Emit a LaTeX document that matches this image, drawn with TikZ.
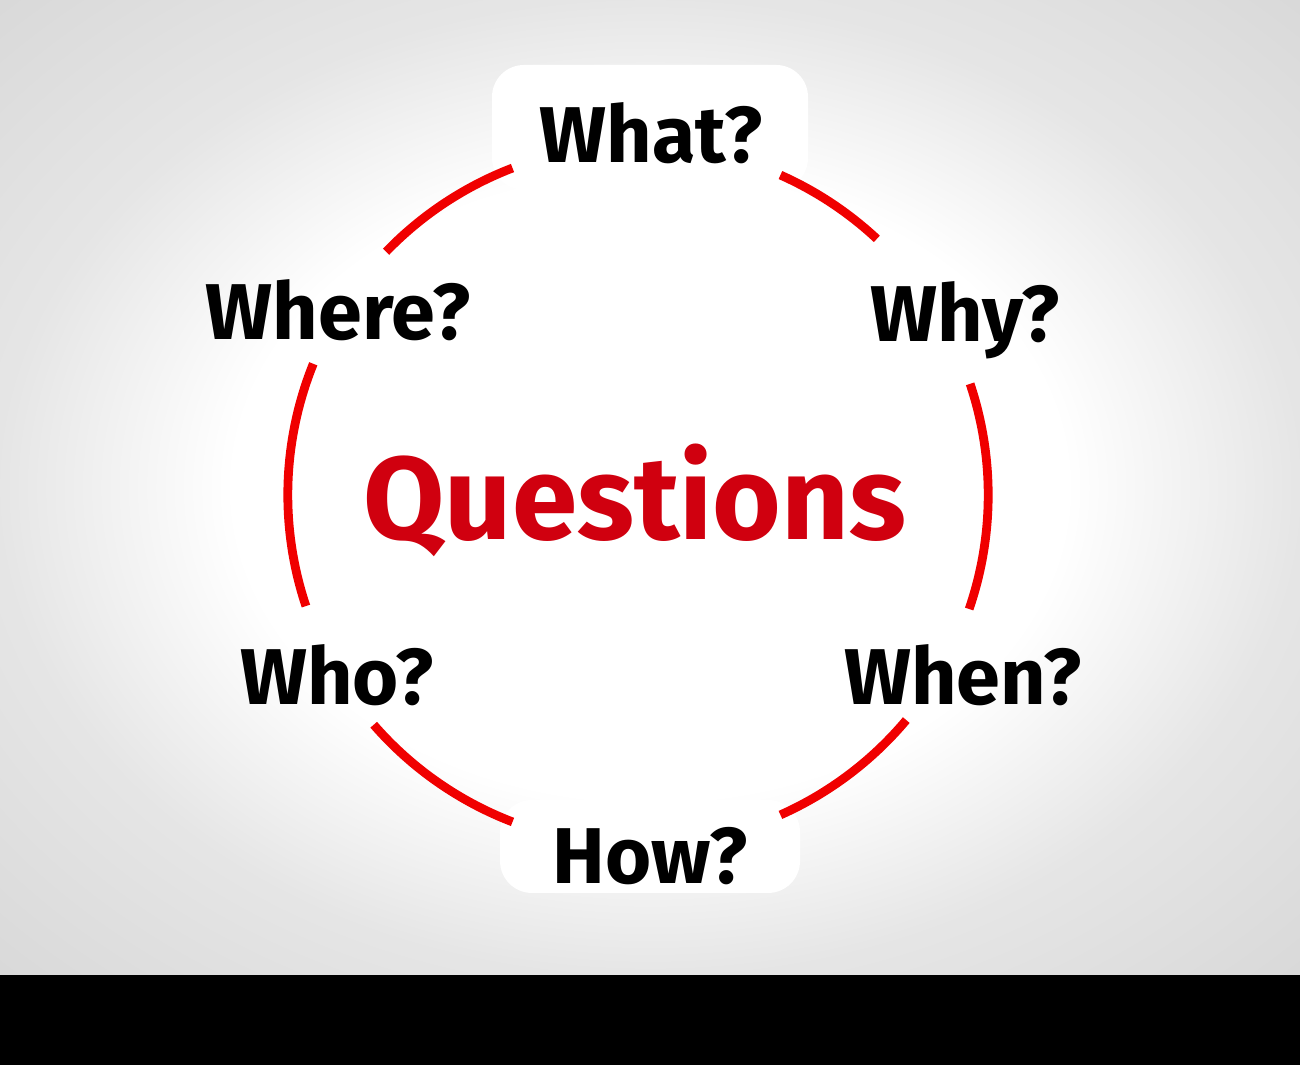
\documentclass[tikz,border=0pt]{standalone}
\usepackage{fontspec}
\setmainfont{Fira Sans}
\usepackage{tikz}
\usetikzlibrary{calc}
\definecolor{ringred}{HTML}{F00000}
\definecolor{titlered}{HTML}{D0000F}
\pgfdeclareradialshading{paper}{\pgfpoint{0bp}{0bp}}{color(0bp)=(white); color(16bp)=(white); color(25bp)=(black!10); color(50bp)=(black!22)}

\begin{document}
\begin{tikzpicture}[x=0.01cm,y=0.01cm,line cap=butt,
  ring/.style={draw=ringred,line width=2.5pt},
  ask/.style={anchor=base,inner sep=0pt,font=\fontsize{22.5}{27}\selectfont\bfseries},
  tag/.style={fill=white,rounded corners=0.32cm}]
\useasboundingbox (0,0) rectangle (1300,1065);
\shade[shading=paper] (0,90) rectangle (1300,1065);
\fill[black] (0,0) rectangle (1300,90);
% white tags under What? and How?
\fill[tag] (492,875) rectangle (808,1000);
\fill[tag] (500,172) rectangle (800,265);
\coordinate (ctr) at (638,570);
% the ring, broken at each question
\draw[ring] (ctr) ++(111:3.5cm) arc[start angle=111,end angle=136,radius=3.5cm];
\draw[ring] (ctr) ++(47:3.5cm) arc[start angle=47,end angle=66,radius=3.5cm];
\draw[ring] (ctr) ++(-19:3.5cm) arc[start angle=-19,end angle=18.5,radius=3.5cm];
\draw[ring] (ctr) ++(-66:3.5cm) arc[start angle=-66,end angle=-40,radius=3.5cm];
\draw[ring] (ctr) ++(-139:3.5cm) arc[start angle=-139,end angle=-111,radius=3.5cm];
\draw[ring] (ctr) ++(158:3.5cm) arc[start angle=158,end angle=198.5,radius=3.5cm];
\node[ask] (what) at (651,902) {What?};
\node[ask] (why) at (965,723) {Why?};
\node[ask] (where) at (338,725) {Where?};
\node[ask] (who) at (337,360) {Who?};
\node[ask] (when) at (963,360) {When?};
\node[ask] (how) at (650,181) {How?};
\node[anchor=base,inner sep=0pt,text=titlered,font=\fontsize{33.5}{40}\selectfont\bfseries] (quest) at (635,525) {Questions};
\end{tikzpicture}
\end{document}
